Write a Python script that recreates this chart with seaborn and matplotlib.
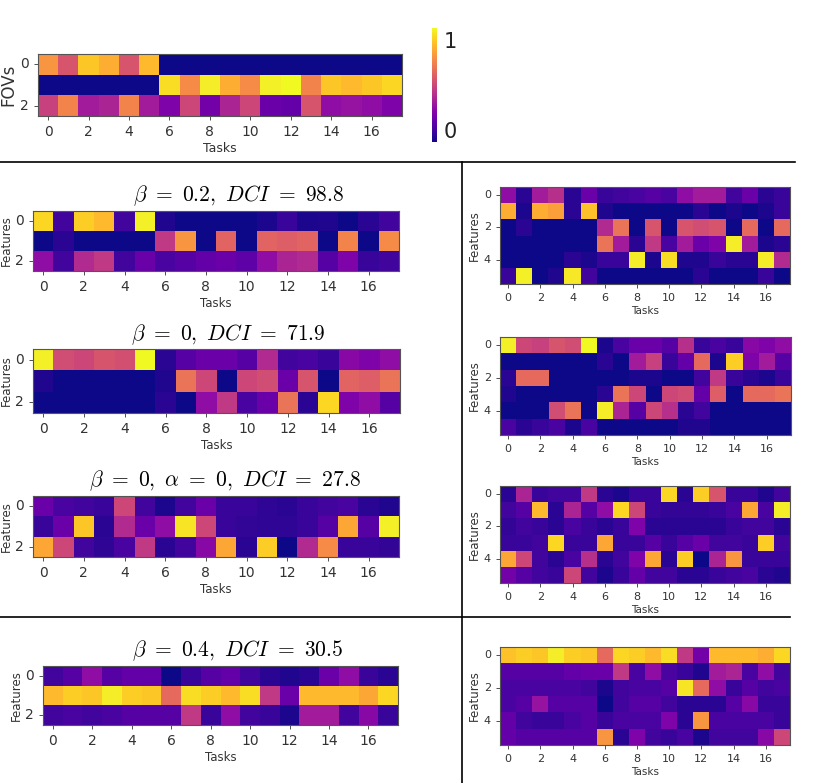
import matplotlib
matplotlib.use("Agg")
import matplotlib.pyplot as plt
from matplotlib.lines import Line2D
import seaborn as sns
import numpy as np

plt.rcParams['mathtext.fontset'] = 'cm'

W, H = 818, 783

# ground truth factors of variation
fov = [
    [0.75, 0.55, 0.88, 0.82, 0.55, 0.85, 0, 0, 0, 0, 0, 0, 0, 0, 0, 0, 0, 0],
    [0, 0, 0, 0, 0, 0, 0.93, 0.72, 0.97, 0.82, 0.72, 0.98, 1.0, 0.70, 0.88, 0.85, 0.88, 0.92],
    [0.48, 0.70, 0.35, 0.38, 0.70, 0.35, 0.25, 0.50, 0.22, 0.38, 0.50, 0.20, 0.18, 0.55, 0.30, 0.32, 0.30, 0.25],
]

# left column (3 features)
beta02 = [
    [0.92, 0.10, 0.90, 0.85, 0.10, 0.98, 0.03, 0, 0, 0, 0, 0.02, 0.08, 0.02, 0.03, 0, 0.05, 0.10],
    [0, 0.05, 0, 0, 0, 0, 0.45, 0.75, 0, 0.60, 0, 0.60, 0.58, 0.60, 0, 0.70, 0, 0.72],
    [0.30, 0.10, 0.40, 0.45, 0.10, 0.20, 0.12, 0.15, 0.18, 0.20, 0.17, 0.30, 0.38, 0.40, 0.15, 0.25, 0.08, 0.10],
]
beta0 = [
    [0.98, 0.52, 0.50, 0.55, 0.53, 1.0, 0.05, 0.15, 0.20, 0.20, 0.15, 0.40, 0.10, 0.12, 0.08, 0.28, 0.25, 0.30],
    [0.03, 0, 0, 0, 0, 0, 0.03, 0.65, 0.50, 0, 0.50, 0.52, 0.20, 0.55, 0, 0.60, 0.58, 0.65],
    [0, 0, 0, 0, 0, 0, 0.05, 0, 0.30, 0.45, 0.12, 0.20, 0.65, 0.05, 0.92, 0.25, 0.30, 0.15],
]
beta0_alpha0 = [
    [0.20, 0.12, 0.10, 0.08, 0.50, 0.10, 0.02, 0.10, 0.20, 0.08, 0.08, 0.06, 0.05, 0.08, 0.10, 0.12, 0.05, 0.03],
    [0.08, 0.20, 0.88, 0.05, 0.40, 0.20, 0.30, 0.95, 0.50, 0.08, 0.07, 0.06, 0.06, 0.08, 0.15, 0.80, 0.15, 0.98],
    [0.80, 0.50, 0.10, 0.06, 0.12, 0.45, 0.05, 0.10, 0.28, 0.80, 0.05, 0.90, 0.0, 0.40, 0.72, 0.08, 0.08, 0.07],
]
beta04 = [
    [0.10, 0.15, 0.30, 0.15, 0.18, 0.18, 0.0, 0.08, 0.15, 0.18, 0.10, 0.05, 0.03, 0.05, 0.20, 0.30, 0.08, 0.05],
    [0.85, 0.90, 0.88, 0.97, 0.90, 0.88, 0.62, 0.93, 0.90, 0.85, 0.93, 0.45, 0.20, 0.85, 0.85, 0.85, 0.80, 0.92],
    [0.10, 0.12, 0.10, 0.12, 0.15, 0.15, 0.15, 0.45, 0.08, 0.30, 0.10, 0.08, 0.02, 0.35, 0.35, 0.10, 0.28, 0.08],
]

# right column (6 features)
full02 = [
    [0.30, 0.05, 0.35, 0.42, 0.05, 0.20, 0.08, 0.10, 0.12, 0.15, 0.12, 0.30, 0.35, 0.35, 0.10, 0.20, 0.05, 0.08],
    [0.82, 0.02, 0.82, 0.78, 0.05, 0.87, 0.03, 0, 0, 0, 0, 0, 0.05, 0, 0.02, 0, 0.02, 0.08],
    [0, 0.05, 0, 0, 0, 0, 0.40, 0.65, 0, 0.55, 0, 0.55, 0.52, 0.55, 0, 0.62, 0, 0.62],
    [0, 0, 0, 0, 0, 0, 0.65, 0.35, 0.05, 0.45, 0.12, 0.35, 0.20, 0.25, 0.97, 0.35, 0.02, 0.05],
    [0, 0, 0, 0, 0.05, 0.02, 0.08, 0.08, 0.97, 0.02, 0.93, 0.03, 0.03, 0.08, 0.05, 0.05, 0.97, 0.40],
    [0.08, 0.98, 0, 0.03, 0.96, 0.10, 0, 0, 0, 0, 0, 0, 0.05, 0, 0, 0, 0.08, 0],
]
full0 = [
    [0.98, 0.50, 0.48, 0.55, 0.52, 1.0, 0.02, 0.12, 0.20, 0.20, 0.15, 0.42, 0.08, 0.12, 0.08, 0.28, 0.25, 0.30],
    [0, 0, 0, 0, 0, 0, 0.05, 0, 0.35, 0.48, 0.08, 0.18, 0.62, 0.02, 0.90, 0.25, 0.35, 0.15],
    [0.05, 0.62, 0.62, 0, 0, 0, 0, 0, 0.02, 0.02, 0, 0, 0.10, 0.45, 0.08, 0.05, 0.02, 0.08],
    [0.03, 0, 0, 0, 0, 0, 0.05, 0.65, 0.50, 0, 0.50, 0.52, 0.18, 0.58, 0, 0.62, 0.62, 0.65],
    [0, 0, 0, 0.52, 0.65, 0, 0.97, 0.38, 0.15, 0.50, 0.42, 0.05, 0.10, 0, 0, 0, 0, 0],
    [0.12, 0.05, 0.08, 0.12, 0.02, 0.12, 0, 0, 0, 0, 0, 0.03, 0.03, 0, 0, 0, 0, 0],
]
full0_alpha0 = [
    [0.05, 0.38, 0.08, 0.10, 0.10, 0.45, 0.05, 0.02, 0.08, 0.08, 0.92, 0.05, 0.90, 0.55, 0.08, 0.08, 0.03, 0.10],
    [0.10, 0.15, 0.85, 0.05, 0.38, 0.15, 0.30, 0.92, 0.50, 0.08, 0.07, 0.07, 0.07, 0.08, 0.12, 0.80, 0.12, 0.97],
    [0.07, 0.10, 0.08, 0.05, 0.12, 0.08, 0.05, 0.08, 0.25, 0.05, 0.05, 0.05, 0.05, 0.05, 0.08, 0.10, 0.10, 0.05],
    [0.08, 0.08, 0.10, 0.92, 0.08, 0.08, 0.80, 0.08, 0.08, 0.15, 0.08, 0.15, 0.20, 0.10, 0.10, 0.08, 0.90, 0.10],
    [0.80, 0.50, 0.10, 0.05, 0.12, 0.42, 0.05, 0.10, 0.25, 0.80, 0.05, 0.90, 0.0, 0.38, 0.75, 0.08, 0.08, 0.08],
    [0.22, 0.15, 0.10, 0.08, 0.50, 0.10, 0.02, 0.08, 0.18, 0.10, 0.10, 0.05, 0.05, 0.08, 0.10, 0.12, 0.05, 0.03],
]
full04 = [
    [0.87, 0.90, 0.88, 0.97, 0.90, 0.88, 0.62, 0.92, 0.90, 0.85, 0.93, 0.45, 0.22, 0.85, 0.85, 0.85, 0.82, 0.92],
    [0.15, 0.15, 0.15, 0.15, 0.18, 0.20, 0.20, 0.45, 0.12, 0.30, 0.12, 0.08, 0.03, 0.35, 0.38, 0.12, 0.30, 0.10],
    [0.12, 0.12, 0.12, 0.12, 0.12, 0.10, 0.02, 0.10, 0.12, 0.12, 0.15, 0.95, 0.62, 0.30, 0.08, 0.15, 0.10, 0.12],
    [0.12, 0.15, 0.32, 0.15, 0.15, 0.15, 0.0, 0.10, 0.15, 0.15, 0.10, 0.05, 0.05, 0.05, 0.15, 0.28, 0.08, 0.08],
    [0.18, 0.10, 0.08, 0.08, 0.12, 0.15, 0.08, 0.12, 0.12, 0.12, 0.25, 0.05, 0.75, 0.12, 0.12, 0.12, 0.12, 0.08],
    [0.18, 0.15, 0.15, 0.15, 0.15, 0.15, 0.75, 0.05, 0.25, 0.10, 0.08, 0.12, 0.02, 0.10, 0.10, 0.10, 0.28, 0.50],
]

titles = [r'$\beta\ =\ 0.2,\ DCI\ =\ 98.8$', r'$\beta\ =\ 0,\ DCI\ =\ 71.9$',
          r'$\beta\ =\ 0,\ \alpha\ =\ 0,\ DCI\ =\ 27.8$', r'$\beta\ =\ 0.4,\ DCI\ =\ 30.5$']


def px(l, t, r, b):
    return [l / W, 1 - b / H, (r - l) / W, (b - t) / H]


def draw(data, box, ylabel, fs, lfs, yfs):
    ax = fig.add_axes(px(*box))
    sns.heatmap(np.array(data), ax=ax, cmap='plasma', vmin=0, vmax=1, cbar=False,
                xticklabels=2, yticklabels=2)
    for sp in ax.spines.values():
        sp.set_visible(True)
        sp.set_color('#555555')
        sp.set_linewidth(0.8)
    ax.tick_params(labelsize=fs, colors='#333333', length=3, width=0.6)
    plt.setp(ax.get_xticklabels(), rotation=0)
    plt.setp(ax.get_yticklabels(), rotation=0)
    ax.set_xlabel('Tasks', fontsize=lfs, color='#333333', labelpad=2)
    ax.set_ylabel(ylabel, fontsize=yfs, color='#333333', labelpad=2)
    return ax


fig = plt.figure(figsize=(W / 100, H / 100), dpi=100)

draw(fov, (38, 54, 402, 116), 'FOVs', 10, 9, 12)

# colorbar (0 and 1 sit a little inside the ends of the bar)
cax = fig.add_axes(px(432, 28, 437, 142))
sm = plt.cm.ScalarMappable(cmap='plasma', norm=plt.Normalize(-0.13, 1.13))
cb = fig.colorbar(sm, cax=cax, ticks=[0, 1])
cb.outline.set_visible(False)
cax.tick_params(length=0, labelsize=15, pad=5, colors='#222222')

left_data = [beta02, beta0, beta0_alpha0, beta04]
left_boxes = [(33, 211, 399, 271), (33, 349, 400, 413), (33, 496, 399, 557), (43, 666, 398, 725)]
title_pos = [(239, 196), (228, 335), (225, 481), (238, 651)]
for d, b, t, tp in zip(left_data, left_boxes, titles, title_pos):
    draw(d, b, 'Features', 10, 8.5, 8.5)
    fig.text(tp[0] / W, 1 - tp[1] / H, t, ha='center', va='center', fontsize=15.5)

right_data = [full02, full0, full0_alpha0, full04]
right_boxes = [(500, 187, 790, 284), (500, 337, 791, 435), (500, 486, 790, 583), (500, 647, 790, 745)]
for d, b in zip(right_data, right_boxes):
    draw(d, b, 'Features', 8, 7.5, 8.5)

# separator lines
fig.add_artist(Line2D([0, 795 / W], [1 - 162 / H, 1 - 162 / H], color='black', lw=1.2))
fig.add_artist(Line2D([0, 790 / W], [1 - 617 / H, 1 - 617 / H], color='black', lw=1.2))
fig.add_artist(Line2D([462 / W, 462 / W], [0, 1 - 162 / H], color='black', lw=1.2))

fig.savefig('out.png', dpi=100)
